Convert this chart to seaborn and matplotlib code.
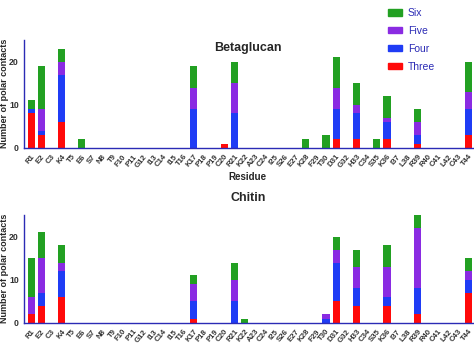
import pandas as pd
import matplotlib.pyplot as plt
import seaborn as sns
from matplotlib.patches import Patch

# Residuos
residues = ["R1", "E2", "C3", "K4", "T5", "E6", "S7", "N8", "T9", "F10", "P11", "G12",
            "I13", "C14", "I15", "T16", "K17", "P18", "P19", "C20", "R21", "K22", "A23",
            "C24", "I25", "S26", "E27", "K28", "F29", "T30", "D31", "G32", "H33", "C34",
            "S35", "K36", "I37", "L38", "R39", "R40", "C41", "L42", "C43", "T44"]

# Betaglucan: contactos por residuo (solo residuos con contactos)
beta_three = {"R1": 8, "E2": 3, "K4": 6, "C20": 1, "D31": 2, "H33": 2, "K36": 2, "R39": 1, "T44": 3}
beta_four = {"R1": 1, "E2": 1, "K4": 11, "K17": 9, "R21": 8, "D31": 7, "H33": 6, "K36": 4, "R39": 2, "T44": 6}
beta_five = {"E2": 5, "K4": 3, "K17": 5, "R21": 7, "D31": 5, "H33": 2, "K36": 1, "R39": 3, "T44": 4}
beta_six = {"R1": 2, "E2": 10, "K4": 3, "E6": 2, "K17": 5, "R21": 5, "K28": 2, "T30": 3,
            "D31": 7, "H33": 5, "S35": 2, "K36": 5, "R39": 3, "T44": 7}

# Chitin
chit_three = {"R1": 2, "E2": 4, "K4": 6, "K17": 1, "D31": 5, "H33": 4, "K36": 4, "R39": 2, "T44": 7}
chit_four = {"E2": 3, "K4": 6, "K17": 4, "R21": 5, "T30": 1, "D31": 9, "H33": 4, "K36": 2, "R39": 6, "T44": 3}
chit_five = {"R1": 4, "E2": 8, "K4": 2, "K17": 4, "R21": 5, "T30": 1, "D31": 3, "H33": 5, "K36": 7, "R39": 14, "T44": 2}
chit_six = {"R1": 9, "E2": 6, "K4": 4, "K17": 2, "R21": 4, "K22": 1, "D31": 3, "H33": 4, "K36": 5, "R39": 3, "T44": 3}

colores = {"Six": "#22a022", "Five": "#8a2be2", "Four": "#1f3cf5", "Three": "#ff0a0a"}
azul = "#2b2bb5"


def armar_df(three, four, five, six):
    df = pd.DataFrame({"Residue": residues})
    df["Three"] = [three.get(r, 0) for r in residues]
    df["Four"] = [four.get(r, 0) for r in residues]
    df["Five"] = [five.get(r, 0) for r in residues]
    df["Six"] = [six.get(r, 0) for r in residues]
    # acumulados para apilar
    df["c_three"] = df["Three"]
    df["c_four"] = df["c_three"] + df["Four"]
    df["c_five"] = df["c_four"] + df["Five"]
    df["c_six"] = df["c_five"] + df["Six"]
    return df


def dibujar(ax, df):
    for col, nombre in [("c_six", "Six"), ("c_five", "Five"), ("c_four", "Four"), ("c_three", "Three")]:
        sns.barplot(data=df, x="Residue", y=col, order=residues, color=colores[nombre],
                    width=0.7, saturation=1, ax=ax, linewidth=0)
    ax.set_xlim(-0.7, 43.45)
    ax.set_ylim(0, 25)
    ax.set_yticks([0, 10, 20])
    ax.set_ylabel("")
    ax.set_xlabel("")
    for s in ["top", "right"]:
        ax.spines[s].set_visible(False)
    for s in ["left", "bottom"]:
        ax.spines[s].set_color(azul)
        ax.spines[s].set_linewidth(1.0)
    ax.tick_params(axis="both", colors=azul, length=2.5, width=0.8, pad=1.2)
    ax.tick_params(axis="x", labelsize=5.6, labelrotation=50)
    ax.tick_params(axis="y", labelsize=6.3)
    for lab in ax.get_xticklabels():
        lab.set_ha("right")
        lab.set_rotation_mode("anchor")
        lab.set_color("#333333")
        lab.set_fontweight("bold")
    for lab in ax.get_yticklabels():
        lab.set_color("#333333")
        lab.set_fontweight("bold")


sns.set_style("white")
plt.rcParams["font.family"] = ["Liberation Sans", "DejaVu Sans"]

fig = plt.figure(figsize=(4.74, 3.58), dpi=100)
ax1 = fig.add_axes([0.0506, 0.5866, 0.947, 0.3017])
ax2 = fig.add_axes([0.0506, 0.0978, 0.947, 0.3017])

dibujar(ax1, armar_df(beta_three, beta_four, beta_five, beta_six))
dibujar(ax2, armar_df(chit_three, chit_four, chit_five, chit_six))

fig.text(0.523, 0.866, "Betaglucan", ha="center", va="center", fontsize=9, fontweight="bold")
fig.text(0.523, 0.447, "Chitin", ha="center", va="center", fontsize=9, fontweight="bold")
fig.text(0.522, 1 - 177 / 358, "Residue", ha="center", va="center", fontsize=7, fontweight="bold")
fig.text(0.0085, 0.74, "Number of polar contacts", rotation=90, ha="center", va="center",
         fontsize=6.5, fontweight="bold")
fig.text(0.0085, 0.25, "Number of polar contacts", rotation=90, ha="center", va="center",
         fontsize=6.5, fontweight="bold")

handles = [Patch(color=colores[n], label=n) for n in ["Six", "Five", "Four", "Three"]]
leg = fig.legend(handles=handles, loc="upper left", bbox_to_anchor=(384 / 474, 1 - 4 / 358),
                 frameon=False, fontsize=7.5, handlelength=1.3, handleheight=0.55,
                 labelspacing=0.75, handletextpad=0.6, borderaxespad=0)
for t in leg.get_texts():
    t.set_color(azul)

plt.savefig("out.png", dpi=100)
